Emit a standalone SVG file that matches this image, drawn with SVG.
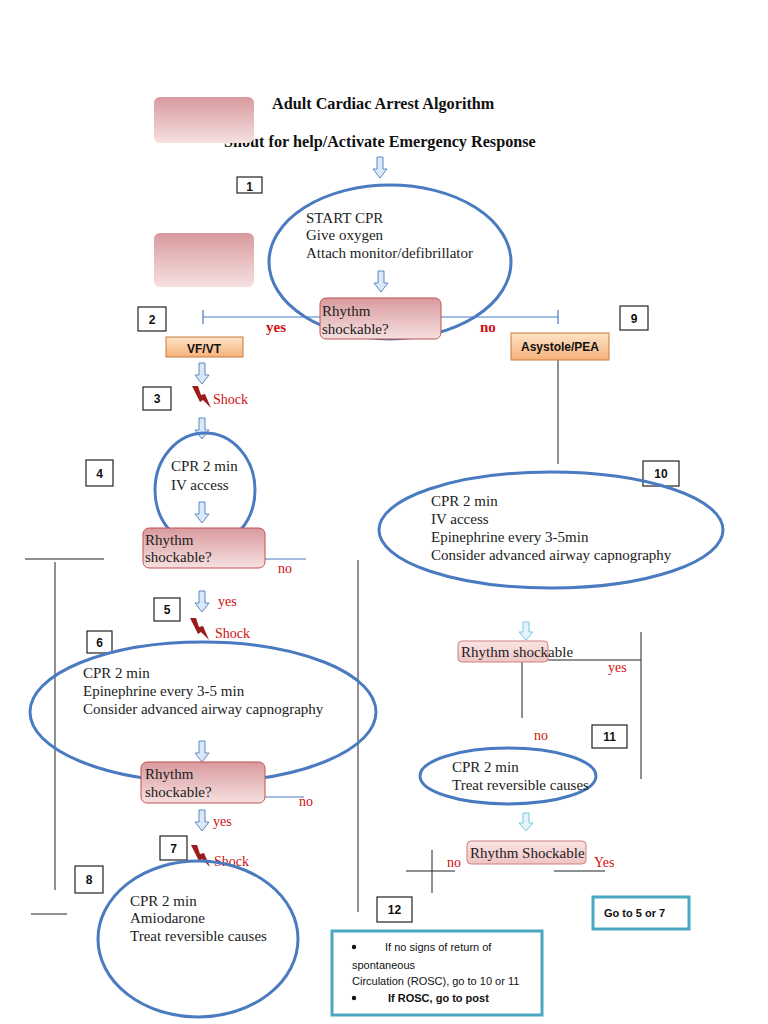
<svg xmlns="http://www.w3.org/2000/svg" width="768" height="1024" viewBox="0 0 768 1024">
<defs>
<linearGradient id="pk" x1="0" y1="0" x2="0" y2="1"><stop offset="0" stop-color="#d99a9e"/><stop offset="1" stop-color="#f6e0e0"/></linearGradient>
<linearGradient id="or" x1="0" y1="0" x2="0" y2="1"><stop offset="0" stop-color="#fde3c8"/><stop offset="1" stop-color="#f7b27a"/></linearGradient>
<linearGradient id="lp" x1="0" y1="0" x2="0" y2="1"><stop offset="0" stop-color="#fbe4e4"/><stop offset="1" stop-color="#f0c4c4"/></linearGradient>
<path id="da" d="M-3,0 H3 V12 H7 L0,21 L-7,12 H-3 Z" fill="#dde8f6" stroke="#5b87c6" stroke-width="1"/>
<path id="da2" d="M-3,0 H3 V10 H7 L0,18 L-7,10 H-3 Z" fill="#e3f4fa" stroke="#7cc6e0" stroke-width="1"/>
<path id="lt" d="M0,0 L6,0 L9,9 L13,8 L19,22 L11,14 L8,16 Z" fill="#9a1c1c"/>
</defs>
<style>
.s{font-family:"Liberation Serif","DejaVu Serif",serif;font-size:15px;fill:#222}
.b{font-family:"Liberation Serif",serif;font-weight:bold;font-size:16.2px;fill:#111}
.r{font-family:"Liberation Serif",serif;font-size:14px;fill:#d01010}
.rb{font-family:"Liberation Serif",serif;font-weight:bold;font-size:15px;fill:#d01010}
.n{fill:#fff;stroke:#222;stroke-width:1.2}
.nt{font-family:"Liberation Sans",sans-serif;font-size:12px;font-weight:bold;text-anchor:middle;fill:#111}
.e{fill:none;stroke:#4a7abf;stroke-width:3}
.ln{stroke:#222;stroke-width:1;fill:none}
.bl{stroke:#4a7abf;stroke-width:1.2;fill:none}
.rs{fill:url(#pk);stroke:#c05050;stroke-width:1}
.tb{fill:#fff;stroke:#4aa8c0;stroke-width:3}
.k{font-family:"Liberation Sans",sans-serif;font-size:11px;fill:#111}
</style>
<rect width="768" height="1024" fill="#fff"/>
<g id="title">
<text class="b" x="272" y="109">Adult Cardiac Arrest Algorithm</text>
<text class="b" x="224" y="147">Shout for help/Activate Emergency Response</text>
<rect x="154" y="97" width="100" height="46" rx="6" fill="url(#pk)"/>
<rect x="154" y="233" width="100" height="54" rx="6" fill="url(#pk)"/>
</g>
<g id="connectors">
<use href="#da" x="380" y="157"/>
<use href="#da" x="381" y="271"/>
<path class="bl" d="M203,317 H330 M430,317 H558 M203,310 V324 M558,310 V324"/>
<use href="#da" x="202" y="363"/>
<use href="#da" x="202" y="418"/>
<use href="#da" x="202" y="502"/>
<path class="bl" d="M200,559 H306"/>
<path class="ln" d="M25,559 H104 M55,562 V890 M31,914 H67 M358,560 V912"/>
<use href="#da" x="202" y="591"/>
<use href="#da" x="202" y="741"/>
<path class="bl" d="M200,797 H304"/>
<use href="#da" x="202" y="810"/>
<path class="ln" d="M558,360 V464" stroke="#555"/>
<use href="#da2" x="526" y="622"/>
<path class="ln" d="M548,660 H641 M641,632 V779 M522,660 V718"/>
<use href="#da2" x="526" y="813"/>
<path class="ln" d="M554,871 H605 M406,871 H455 M432,850 V893"/>
</g>
<g id="n1">
<rect class="n" x="237" y="177" width="25" height="16"/><text class="nt" x="249.5" y="191" font-size="9">1</text>
<ellipse class="e" cx="390" cy="262" rx="121" ry="77"/>
<text class="s" x="306" y="223">START CPR</text>
<text class="s" x="306" y="240">Give oxygen</text>
<text class="s" x="306" y="258">Attach monitor/defibrillator</text>
</g>
<g id="rs1">
<rect class="rs" x="320" y="298" width="121" height="41" rx="6"/>
<text class="s" x="322" y="316">Rhythm</text><text class="s" x="322" y="334">shockable?</text>
<text class="rb" x="266" y="332">yes</text><text class="rb" x="480" y="332">no</text>
</g>
<g id="n2"><rect class="n" x="138" y="307" width="28" height="24"/><text class="nt" x="152" y="324">2</text></g>
<g id="n9"><rect class="n" x="620" y="306" width="28" height="24"/><text class="nt" x="634" y="323">9</text></g>
<g id="vf"><rect x="166" y="337" width="77" height="20" fill="url(#or)" stroke="#c87a3a"/><text class="nt" x="204" y="353" font-size="11">VF/VT</text></g>
<g id="asys"><rect x="511" y="333" width="98" height="27" fill="url(#or)" stroke="#c87a3a"/><text class="nt" x="560" y="351">Asystole/PEA</text></g>
<g id="n3"><rect class="n" x="143" y="387" width="28" height="23"/><text class="nt" x="157" y="403">3</text>
<use href="#lt" x="192" y="386"/><text class="r" x="213" y="404">Shock</text></g>
<g id="n4"><rect class="n" x="86" y="460" width="27" height="26"/><text class="nt" x="99.5" y="478">4</text>
<ellipse class="e" cx="205" cy="490" rx="50" ry="57"/>
<text class="s" x="171" y="471">CPR 2 min</text><text class="s" x="171" y="490">IV access</text></g>
<g id="rs2"><rect class="rs" x="143" y="528" width="122" height="40" rx="6"/>
<text class="s" x="145" y="545">Rhythm</text><text class="s" x="145" y="562">shockable?</text>
<text class="r" x="278" y="573">no</text></g>
<g id="n5"><rect class="n" x="154" y="598" width="26" height="23"/><text class="nt" x="167" y="614">5</text>
<text class="r" x="218" y="606">yes</text>
<use href="#lt" x="190" y="618"/><text class="r" x="215" y="638">Shock</text></g>
<g id="n6"><rect class="n" x="87" y="631" width="25" height="22"/><text class="nt" x="99.5" y="647">6</text>
<ellipse class="e" cx="203" cy="712" rx="173" ry="70"/>
<text class="s" x="83" y="678">CPR 2 min</text><text class="s" x="83" y="696">Epinephrine every 3-5 min</text><text class="s" x="83" y="714">Consider advanced airway capnography</text></g>
<g id="rs3"><rect class="rs" x="141" y="762" width="124" height="41" rx="6"/>
<text class="s" x="145" y="779">Rhythm</text><text class="s" x="145" y="797">shockable?</text>
<text class="r" x="299" y="806">no</text><text class="r" x="213" y="826">yes</text></g>
<g id="n7"><rect class="n" x="160" y="836" width="27" height="24"/><text class="nt" x="173.5" y="853">7</text>
<use href="#lt" x="191" y="845"/><text class="r" x="214" y="866">Shock</text></g>
<g id="n8"><rect class="n" x="75" y="866" width="28" height="27"/><text class="nt" x="89" y="884">8</text>
<ellipse class="e" cx="198" cy="939" rx="100" ry="78"/>
<text class="s" x="130" y="906">CPR 2 min</text><text class="s" x="130" y="923">Amiodarone</text><text class="s" x="130" y="941">Treat reversible causes</text></g>
<g id="n12"><rect class="n" x="377" y="897" width="35" height="25"/><text class="nt" x="394.5" y="914">12</text></g>
<g id="rosc"><rect class="tb" x="332" y="931" width="210" height="84"/>
<circle cx="354" cy="947" r="2.2" fill="#111"/><text class="k" x="385" y="951">If no signs of return of</text>
<text class="k" x="352" y="969">spontaneous</text>
<text class="k" x="352" y="985">Circulation (ROSC), go to 10 or 11</text>
<circle cx="354" cy="998" r="2.2" fill="#111"/><text class="k" x="388" y="1002" font-size="12" font-weight="bold">If ROSC, go to post</text></g>
<g id="goto"><rect class="tb" x="593" y="897" width="96" height="32"/><text class="k" x="604" y="917" font-weight="bold" font-size="12">Go to 5 or 7</text></g>
<g id="n10"><rect class="n" x="643" y="461" width="36" height="25"/><text class="nt" x="661" y="478">10</text>
<ellipse class="e" cx="551" cy="530" rx="172" ry="58"/>
<text class="s" x="431" y="506">CPR 2 min</text><text class="s" x="431" y="524">IV access</text><text class="s" x="431" y="542">Epinephrine every 3-5min</text><text class="s" x="431" y="560">Consider advanced airway capnography</text></g>
<g id="rs4"><rect x="458" y="641" width="90" height="21" rx="4" fill="url(#lp)" stroke="#d08080"/>
<text class="s" x="461" y="657">Rhythm shockable</text>
<text class="r" x="608" y="672">yes</text><text class="r" x="534" y="740">no</text></g>
<g id="n11"><rect class="n" x="592" y="725" width="35" height="23"/><text class="nt" x="609.5" y="741">11</text>
<ellipse class="e" cx="508" cy="776" rx="88" ry="28"/>
<text class="s" x="452" y="772">CPR 2 min</text><text class="s" x="452" y="790">Treat reversible causes</text></g>
<g id="rs5"><rect x="467" y="841" width="119" height="23" rx="4" fill="url(#lp)" stroke="#d08080"/>
<text class="s" x="470" y="858">Rhythm Shockable</text>
<text class="r" x="447" y="867">no</text><text class="r" x="594" y="867">Yes</text></g>
</svg>
